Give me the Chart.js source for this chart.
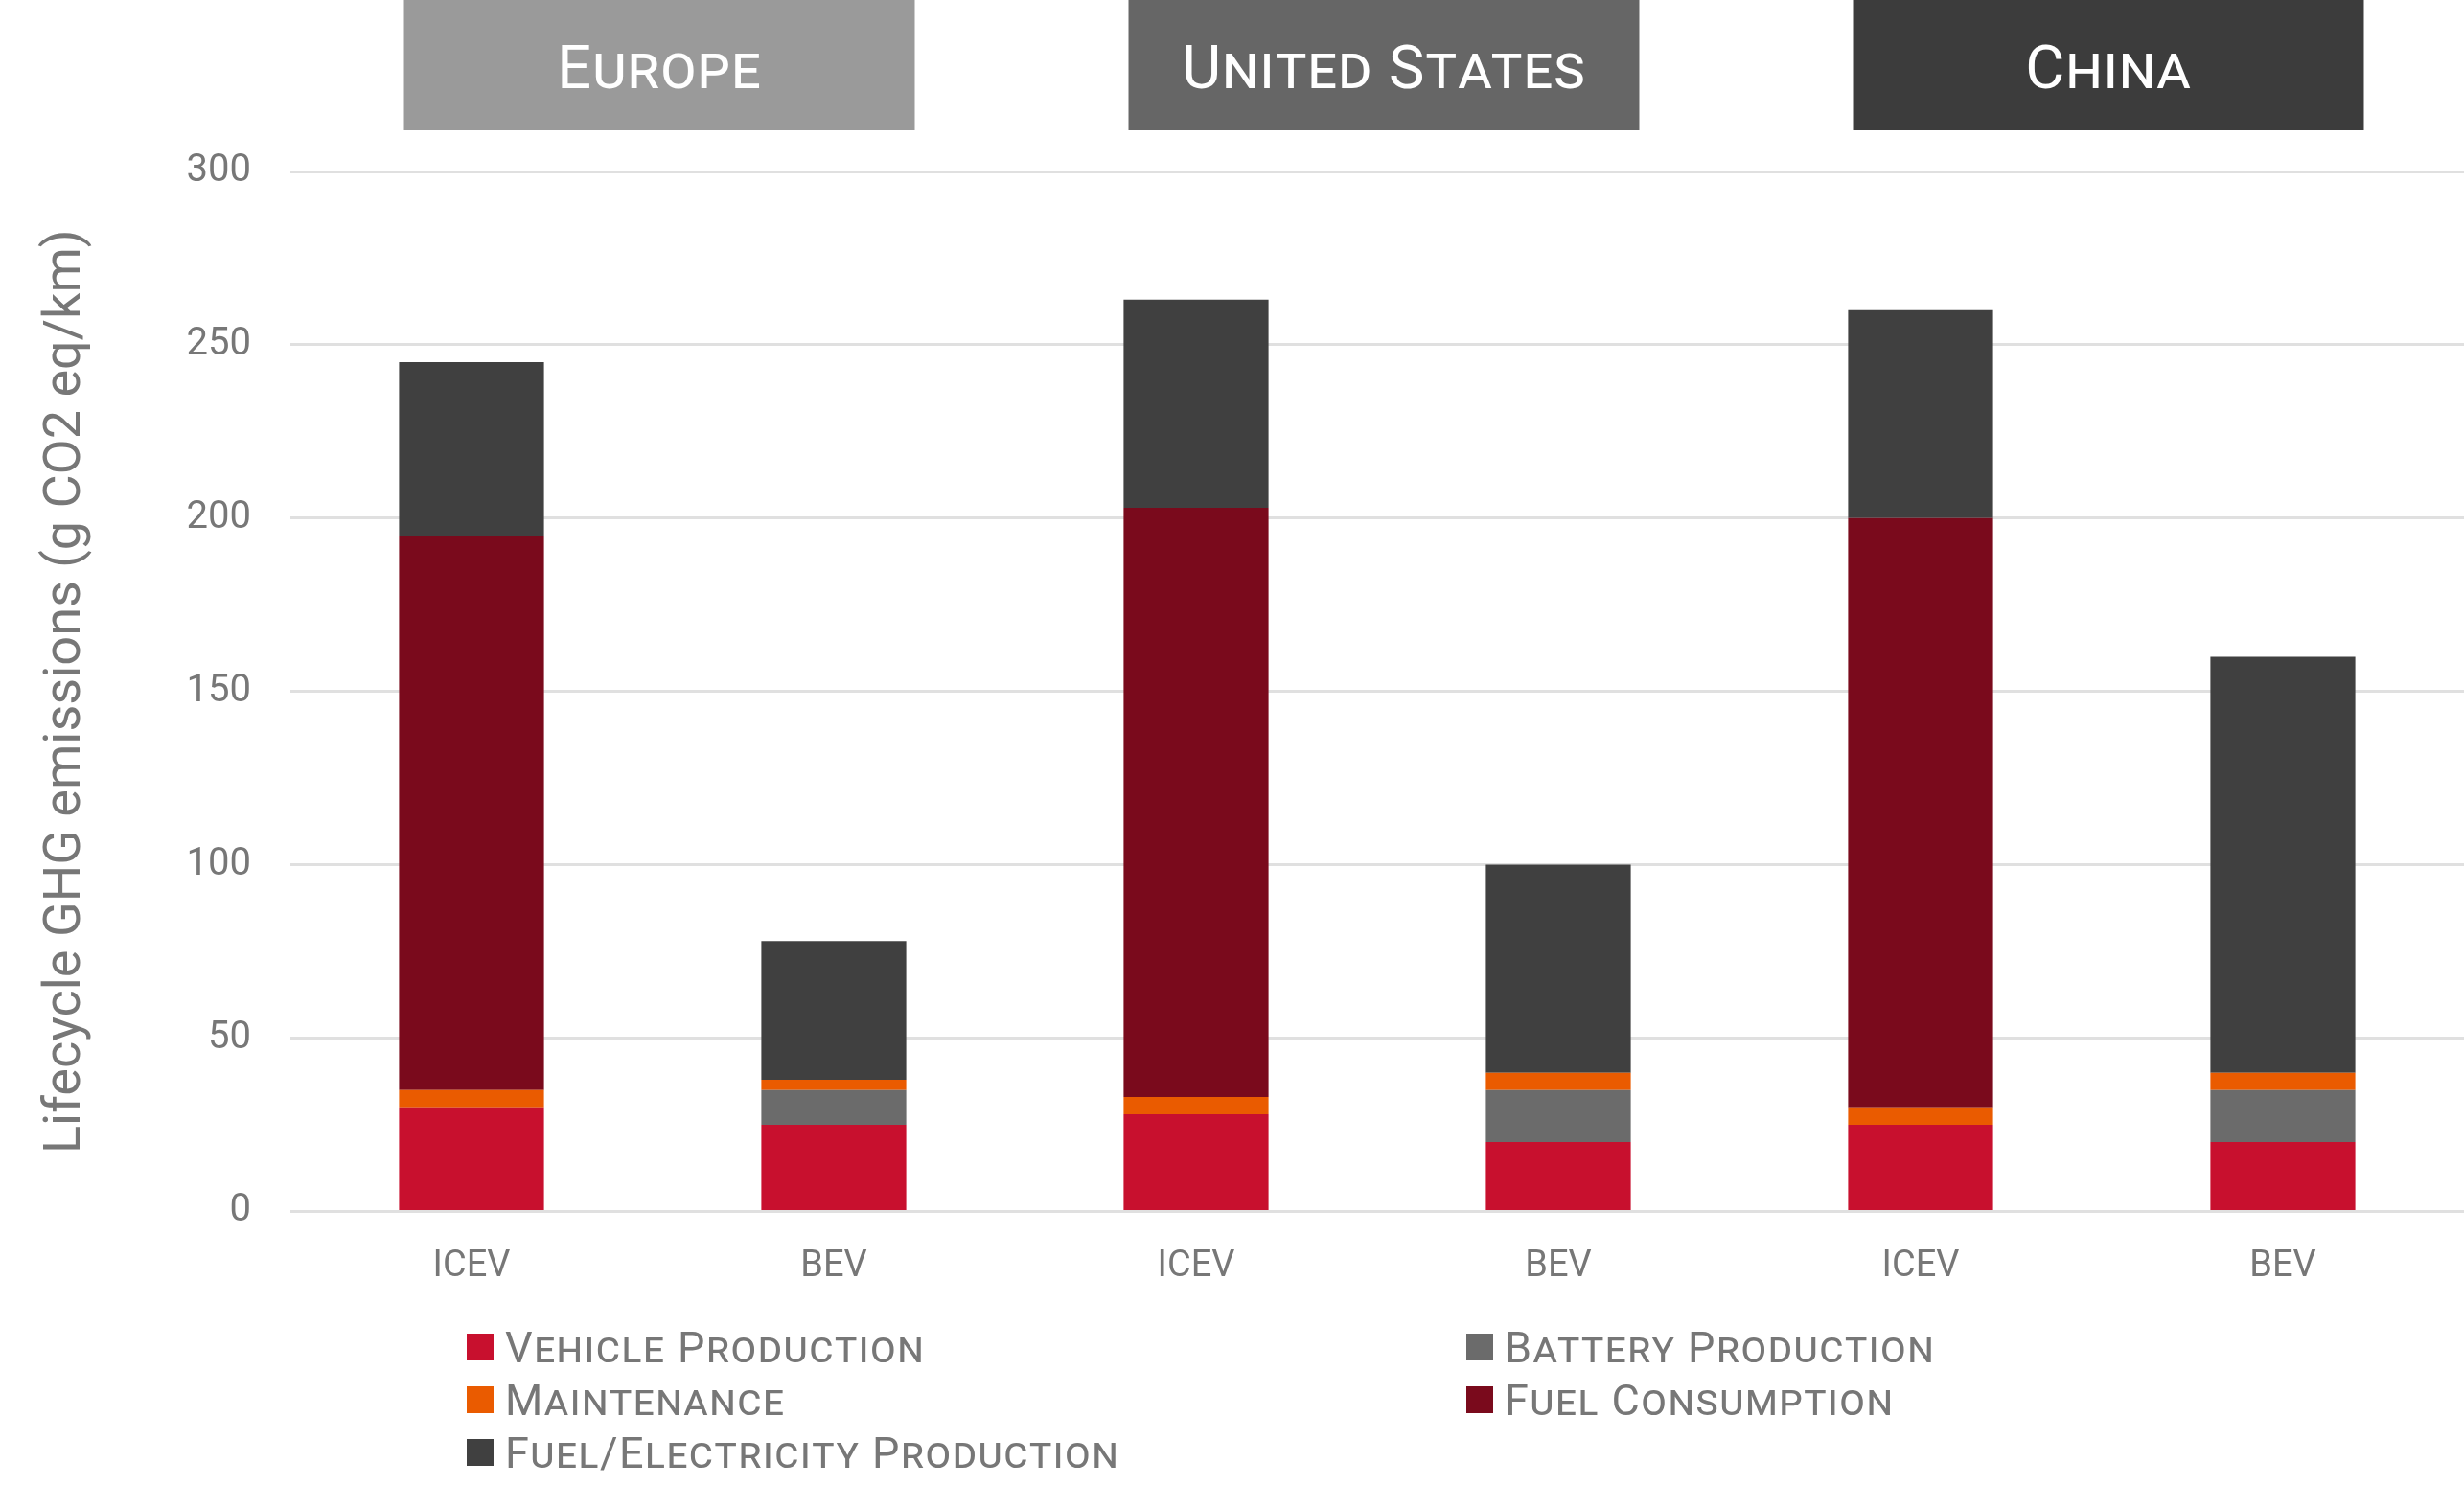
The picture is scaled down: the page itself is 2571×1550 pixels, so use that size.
<!DOCTYPE html>
<html>
<head>
<meta charset="utf-8">
<script src="https://cdn.jsdelivr.net/npm/chart.js@4.4.1/dist/chart.umd.min.js"></script>
<style>
  html, body { margin: 0; padding: 0; background: #fff; }
  #wrap { position: relative; width: 2571px; height: 1550px; }
  #chart { position: absolute; left: 0; top: 0; }
  #legend {
    position: absolute; left: 487px; top: 1387px;
    display: grid; grid-template-columns: 1043px auto; row-gap: 17px;
    font-family: Roboto, 'Noto Sans', sans-serif; font-size: 45px;
    font-variant: small-caps; letter-spacing: 1.5px; color: #777;
  }
  #legend .item { display: flex; align-items: center; height: 38px; }
  #legend .box { width: 28px; height: 28px; margin-right: 12px; flex: none; }
</style>
</head>
<body>
<div id="wrap">
  <canvas id="chart" width="2571" height="1550"></canvas>
  <div id="legend"></div>
</div>
<script>
// Lifecycle GHG emissions by region and powertrain — stacked bars
const CATEGORIES = ['ICEV', 'BEV', 'ICEV', 'BEV', 'ICEV', 'BEV'];
const REGIONS = ['Europe', 'United States', 'China'];
const Y_TICKS = [0, 50, 100, 150, 200, 250, 300];

const VEHICLE_PRODUCTION = [30, 25, 28, 20, 25, 20];
const BATTERY_PRODUCTION = [0, 10, 0, 15, 0, 15];
const MAINTENANCE = [5, 3, 5, 5, 5, 5];
const FUEL_CONSUMPTION = [160, 0, 170, 0, 170, 0];
const FUEL_ELEC_PRODUCTION = [50, 40, 60, 60, 60, 120];

const TEXT = '#777777';
const GRID = '#e0e0e0';
const FONT = "Roboto, 'Noto Sans', sans-serif";
const REGION_COLORS = ['#9a9a9a', '#666666', '#3c3c3c'];

const series = [
  { label: 'Vehicle Production', data: VEHICLE_PRODUCTION, color: '#c8102e' },
  { label: 'Battery Production', data: BATTERY_PRODUCTION, color: '#6b6b6b' },
  { label: 'Maintenance', data: MAINTENANCE, color: '#ea5b00' },
  { label: 'Fuel Consumption', data: FUEL_CONSUMPTION, color: '#7a0a1c' },
  { label: 'Fuel/Electricity Production', data: FUEL_ELEC_PRODUCTION, color: '#404040' },
];

// region header boxes above each ICEV/BEV pair
const regionHeaders = {
  id: 'regionHeaders',
  afterDraw(chart) {
    const x = chart.scales.x;
    const ctx = chart.ctx;
    const step = x.getPixelForValue(1) - x.getPixelForValue(0);
    const w = step * 1.41;
    ctx.save();
    REGIONS.forEach((name, i) => {
      const cx = (x.getPixelForValue(2 * i) + x.getPixelForValue(2 * i + 1)) / 2 + 7;
      ctx.fillStyle = REGION_COLORS[i];
      ctx.fillRect(cx - w / 2, 0, w, 136);
      ctx.font = '400 63px ' + FONT;
      ctx.fontVariantCaps = 'small-caps';
      ctx.letterSpacing = '1px';
      ctx.fillStyle = '#ffffff';
      ctx.textAlign = 'center';
      ctx.textBaseline = 'middle';
      ctx.fillText(name, cx, 76);
    });
    ctx.restore();
  },
};

const chart = new Chart(document.getElementById('chart'), {
  type: 'bar',
  data: {
    labels: CATEGORIES,
    datasets: series.map(s => ({
      label: s.label,
      data: s.data,
      backgroundColor: s.color,
      borderWidth: 0,
      categoryPercentage: 1,
      barPercentage: 0.4,
    })),
  },
  options: {
    responsive: false,
    animation: false,
    devicePixelRatio: 1,
    layout: { padding: { top: 179, right: 0, bottom: 178, left: 0 } },
    plugins: {
      legend: { display: false },
      tooltip: { enabled: false },
    },
    scales: {
      x: {
        stacked: true,
        grid: { display: false },
        border: { display: false },
        ticks: { color: TEXT, font: { family: FONT, size: 38 }, padding: 27 },
      },
      y: {
        stacked: true,
        min: 0,
        max: 300,
        afterBuildTicks: scale => { scale.ticks = Y_TICKS.map(v => ({ value: v })); },
        afterFit: scale => { scale.width = 303; },
        grid: { color: GRID, lineWidth: 3, drawTicks: false },
        border: { display: false },
        ticks: { color: TEXT, font: { family: FONT, size: 40 }, padding: 41 },
        title: {
          display: true,
          text: 'Lifecycle GHG emissions (g CO2 eq/km)',
          color: TEXT,
          font: { family: FONT, size: 54 },
          padding: { top: 37, bottom: 0 },
        },
      },
    },
  },
  plugins: [regionHeaders],
});

// html legend in two fixed columns
const legendEl = document.getElementById('legend');
chart.data.datasets.forEach(ds => {
  const item = document.createElement('div');
  item.className = 'item';
  const box = document.createElement('span');
  box.className = 'box';
  box.style.background = ds.backgroundColor;
  item.appendChild(box);
  item.appendChild(document.createTextNode(ds.label));
  legendEl.appendChild(item);
});
</script>
</body>
</html>
